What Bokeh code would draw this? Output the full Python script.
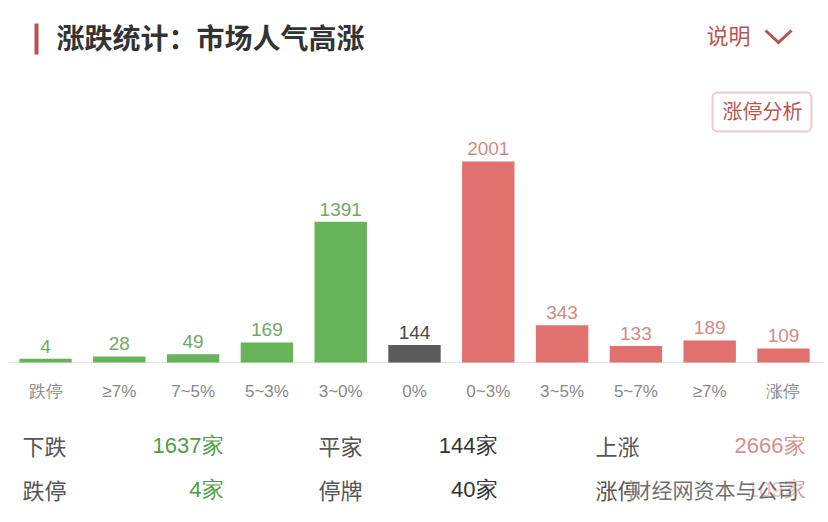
from bokeh.plotting import figure
from bokeh.models import Range1d, Label, LabelSet, BoxAnnotation, PolyAnnotation, ColumnDataSource
from bokeh.core.properties import value
from bokeh.embed import file_html
from bokeh.resources import INLINE

# ---- data ----
categories = ["跌停", "≥7%", "7~5%", "5~3%", "3~0%", "0%", "0~3%", "3~5%", "5~7%", "≥7%", "涨停"]
counts = [4, 28, 49, 169, 1391, 144, 2001, 343, 133, 189, 109]
groups = ["down"] * 5 + ["flat"] + ["up"] * 5

stat_names = ["下跌", "跌停", "平家", "停牌", "上涨", "涨停"]
stat_values = [1637, 4, 144, 40, 2666, 109]
stat_groups = ["down", "down", "flat", "flat", "up", "up"]

title_text = "涨跌统计：市场人气高涨"
explain_text = "说明"
button_text = "涨停分析"
watermark_text = "财经网资本与公司"

# ---- styles ----
W, H = 828, 522
bar_color = {"down": "#66b35a", "flat": "#5b5b5b", "up": "#e0716f"}
label_color = {"down": "#72a867", "flat": "#4a4a4a", "up": "#d38a86"}
stat_color = {"down": "#4f9e45", "flat": "#333333", "up": "#d4908c"}
accent = "#b85450"
CJK = "Noto Sans CJK SC"
NUM = "Liberation Sans"
BAR_BASE = -33

p = figure(width=W, height=H, output_backend="svg", toolbar_location=None,
           x_axis_location=None, y_axis_location=None, min_border=0,
           x_range=Range1d(-0.61, 10.61), y_range=Range1d(-1653, 3630))
p.grid.visible = False
p.outline_line_color = None
p.background_fill_color = "white"
p.border_fill_color = "white"

idx = list(range(len(categories)))
src = ColumnDataSource(dict(
    x=idx, top=counts, base=[BAR_BASE] * len(idx), cat=categories,
    txt=[str(c) for c in counts],
    bc=[bar_color[g] for g in groups], lc=[label_color[g] for g in groups],
))

# baseline
p.segment(x0=[-0.5], x1=[10.55], y0=[BAR_BASE], y1=[BAR_BASE], line_color="#e6e6e6", line_width=1.2)

p.vbar(x="x", top="top", bottom=BAR_BASE, width=0.71, fill_color="bc", line_color=None, source=src)

p.add_layout(LabelSet(x="x", y="top", text="txt", text_color="lc", text_align="center",
                      text_baseline="alphabetic", y_offset=6, text_font=value(NUM),
                      text_font_size=value("19px"), source=src))

p.add_layout(LabelSet(x="x", y="base", text="cat", text_color=value("#888888"), text_align="center",
                      text_baseline="middle", y_offset=-29, text_font=value(NUM),
                      text_font_size=value("17px"), source=src))


def sy(top_px):
    return H - top_px


# title bar + title
p.add_layout(BoxAnnotation(left=34, right=38, top=sy(23), bottom=sy(54),
                           left_units="screen", right_units="screen",
                           top_units="screen", bottom_units="screen",
                           fill_color="#c0504d", fill_alpha=1, line_color=None))
p.add_layout(Label(x=56, y=sy(36), x_units="screen", y_units="screen", text=title_text,
                   text_font=CJK, text_font_style="bold", text_font_size="28px",
                   text_color="#333333", text_baseline="middle", text_align="left"))

# explain + chevron
p.add_layout(Label(x=750, y=sy(33), x_units="screen", y_units="screen", text=explain_text,
                   text_font=CJK, text_font_size="22px", text_color=accent,
                   text_baseline="middle", text_align="right"))
cx = [764, 766, 778, 790, 792, 778]
cy = [31, 29, 40, 29, 31, 44]
p.add_layout(PolyAnnotation(xs=cx, ys=[sy(v) for v in cy], xs_units="screen", ys_units="screen",
                            fill_color=accent, fill_alpha=1, line_color=accent, line_width=0.5))

# button
p.add_layout(BoxAnnotation(left=712, right=811, top=sy(92), bottom=sy(131),
                           left_units="screen", right_units="screen",
                           top_units="screen", bottom_units="screen",
                           fill_color="white", fill_alpha=1, line_color=accent,
                           line_width=2, border_radius=5))
p.add_layout(Label(x=762, y=sy(110), x_units="screen", y_units="screen", text=button_text,
                   text_font=CJK, text_font_size="20px", text_color=accent,
                   text_baseline="middle", text_align="center"))

# stats
name_x = [22, 22, 318, 318, 595, 595]
val_right = [223, 223, 497, 497, 805, 805]
row_y = [444, 488, 444, 488, 444, 488]
for n, v, g, nx, vx, ry in zip(stat_names, stat_values, stat_groups, name_x, val_right, row_y):
    p.add_layout(Label(x=nx, y=sy(ry), x_units="screen", y_units="screen", text=n,
                       text_font=CJK, text_font_size="22px", text_color="#555555",
                       text_baseline="middle", text_align="left"))
    p.add_layout(Label(x=vx, y=sy(ry + 1), x_units="screen", y_units="screen", text=f"{v}家",
                       text_font=NUM, text_font_size="22px", text_color=stat_color[g],
                       text_baseline="middle", text_align="right"))

# watermark
p.add_layout(Label(x=630, y=sy(488), x_units="screen", y_units="screen", text=watermark_text,
                   text_font=CJK, text_font_size="21px", text_color="#555555", text_alpha=0.85,
                   text_baseline="middle", text_align="left",
                   background_fill_color="white", background_fill_alpha=0.45))

open("out.html", "w").write(file_html(p, INLINE))
